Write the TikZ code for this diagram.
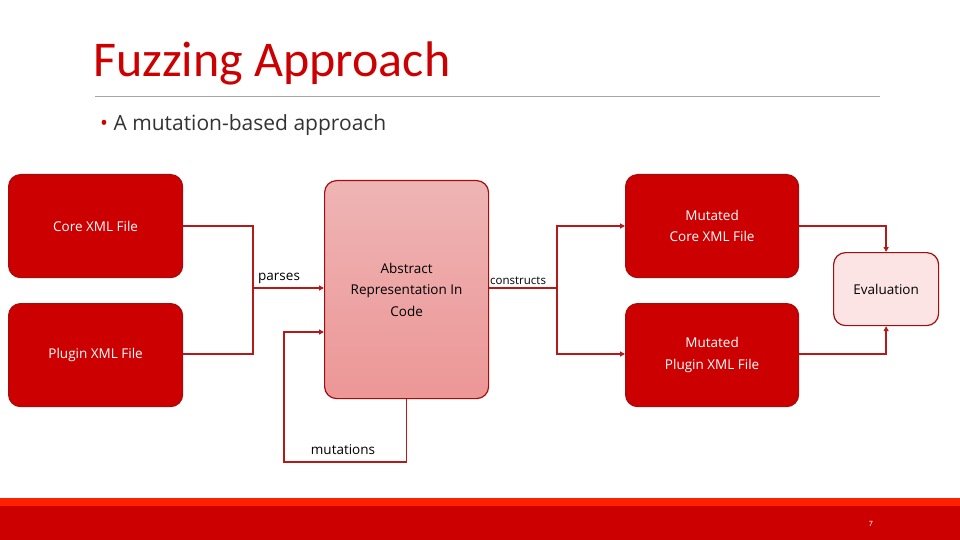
\documentclass[tikz,border=0pt]{standalone}
\usepackage{fontspec}
\setmainfont{Carlito}
\newfontfamily\osans{Open Sans}
\usetikzlibrary{arrows.meta}
\definecolor{dred}{HTML}{CC0000}
\definecolor{bred}{HTML}{A50C0C}
\definecolor{lred}{HTML}{B41A1A}
\definecolor{absf}{HTML}{EBA7A7}
\definecolor{evf}{HTML}{FCE4E4}
\begin{document}
\begin{tikzpicture}[x=1pt,y=-1pt,
 box/.style={draw=bred,line width=1.2pt,fill=dred,rounded corners=12pt,text=white,align=center,font=\osans\fontsize{13.5}{21.5}\selectfont,anchor=north west},
 conn/.style={draw=lred,line width=1.5pt},
 arr/.style={conn,-{Triangle[length=5pt,width=5pt]}},
 lab/.style={font=\osans\fontsize{13.5}{16}\selectfont,inner sep=0pt}]
\useasboundingbox (0,0) rectangle (960,540);
\fill[white] (0,0) rectangle (960,540);
\node[anchor=base west,inner sep=0pt,text=dred,font=\fontsize{50}{54}\selectfont] (title) at (93,77) {Fuzzing Approach};
\draw[gray!70,line width=0.6pt] (95,96) -- (880,96);
\node[anchor=base west,inner sep=0pt,font=\osans\fontsize{21}{24}\selectfont,text=black!80] (bul) at (100,131) {\textcolor{dred}{•} A mutation-based approach};
\fill[red!75!orange] (0,498) rectangle (960,506);
\fill[dred] (0,506) rectangle (960,540);
\node[text=white,font=\fontsize{8}{9}\selectfont] (pg) at (871,524) {7};
% boxes
\node[box,minimum width=174pt,minimum height=103pt] (core) at (8,174) {Core XML File};
\node[box,minimum width=174pt,minimum height=103pt] (plug) at (8,303) {Plugin XML File};
\node[box,minimum width=164pt,minimum height=218pt,fill=absf,top color=absf!85!white,bottom color=absf!90!red,text=black] (abs) at (324,180) {Abstract\\Representation In\\Code};
\node[box,minimum width=173pt,minimum height=103pt] (mcore) at (625,174) {Mutated\\Core XML File};
\node[box,minimum width=173pt,minimum height=103pt] (mplug) at (625,303) {Mutated\\Plugin XML File};
\node[box,minimum width=105pt,minimum height=73pt,fill=evf,text=black] (eval) at (833,252) {Evaluation};
% connectors
\coordinate (j1) at (253,288);
\coordinate (j2) at (557,288);
\draw[conn] (core.east |- 0,226) -| (j1) |- (plug.east |- 0,354);
\draw[arr] (j1) -- (abs.west |- j1);
\node[lab,anchor=base west] (parses) at (258,280) {parses};
\draw[arr] (abs.south) |- (284,462) |- (abs.west |- 0,332);
\node[lab,anchor=base] (mut) at (343,454) {mutations};
\draw[conn] (abs.east |- j2) -- (j2);
\node[lab,anchor=base west,font=\osans\fontsize{11.5}{12}\selectfont] (cons) at (490,284) {constructs};
\draw[arr] (j2) |- (mcore.west |- 0,226);
\draw[arr] (j2) |- (mplug.west |- 0,354);
\draw[arr] (mcore.east |- 0,226) -| (eval.north);
\draw[arr] (mplug.east |- 0,354) -| (eval.south);
\end{tikzpicture}
\end{document}
